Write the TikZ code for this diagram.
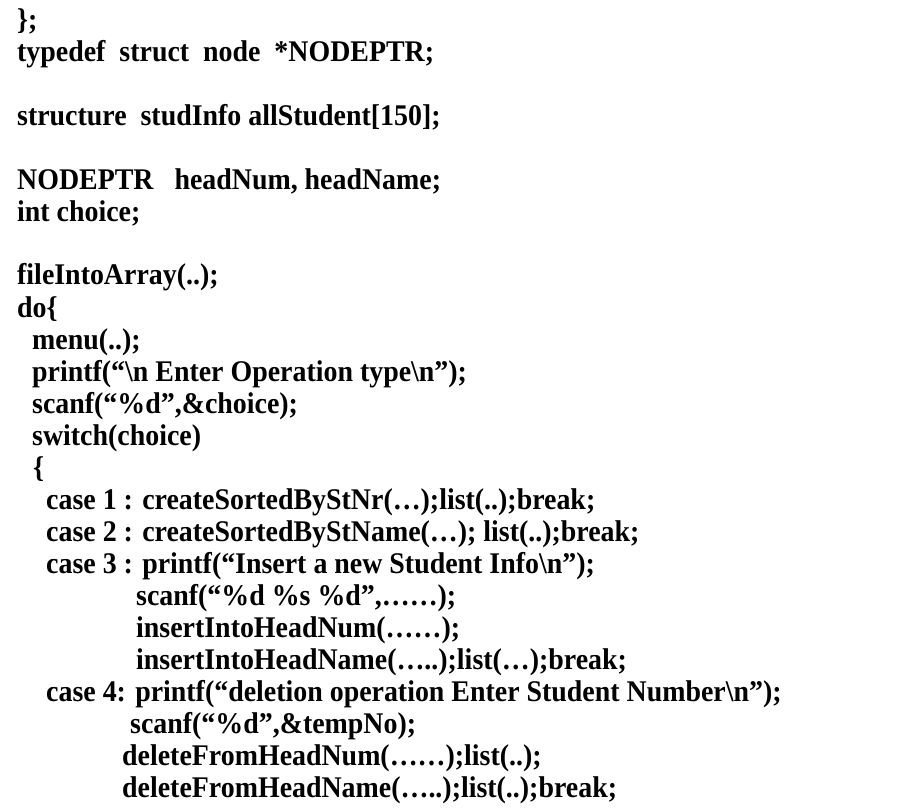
\documentclass[tikz,border=0pt]{standalone}
\usepackage{fontspec}
\setmainfont[FakeStretch=0.93]{Liberation Serif}

\begin{document}
\begin{tikzpicture}[x=1pt,y=1pt,
	code/.style={anchor=base west,inner sep=0pt,font=\fontsize{30}{32}\selectfont\bfseries}]
	\useasboundingbox (0,0) rectangle (910,-810);
	% declarations
	\node [code] (close) at (17,-30) {\};};
	\node [code] (tdef) at (17,-62) {typedef\ \ struct\ \ node\ \ *NODEPTR;};
	\node [code] (arr) at (17,-126) {structure\ \ studInfo allStudent[150];};
	\node [code] (heads) at (17,-190) {NODEPTR\ \ \ headNum, headName;};
	\node [code] (choice) at (17,-222) {int choice;};
	% main loop
	\node [code] (fill) at (17,-285) {fileIntoArray(..);};
	\node [code] (do) at (17,-317) {do\{};
	\node [code] (menu) at (32,-349) {menu(..);};
	\node [code] (ask) at (32,-381) {printf(“\textbackslash n Enter Operation type\textbackslash n”);};
	\node [code] (read) at (32,-413) {scanf(“\%d”,\&choice);};
	\node [code] (sw) at (32,-445) {switch(choice)};
	\node [code] (open) at (33,-477) {\{};
	% cases
	\node [code] (caseA) at (46,-509) {case 1 : createSortedByStNr(…);list(..);break;};
	\node [code] (caseB) at (46,-541) {case 2 : createSortedByStName(…); list(..);break;};
	\node [code] (caseC) at (46,-573) {case 3 : printf(“Insert a new Student Info\textbackslash n”);};
	\node [code] (insA) at (136,-605) {scanf(“\%d \%s \%d”,……);};
	\node [code] (insB) at (136,-637) {insertIntoHeadNum(……);};
	\node [code] (insC) at (136,-669) {insertIntoHeadName(…..);list(…);break;};
	\node [code] (caseD) at (46,-701) {case 4: printf(“deletion operation Enter Student Number\textbackslash n”);};
	\node [code] (delA) at (130,-733) {scanf(“\%d”,\&tempNo);};
	\node [code] (delB) at (122,-765) {deleteFromHeadNum(……);list(..);};
	\node [code] (delC) at (122,-797) {deleteFromHeadName(…..);list(..);break;};
\end{tikzpicture}
\end{document}
